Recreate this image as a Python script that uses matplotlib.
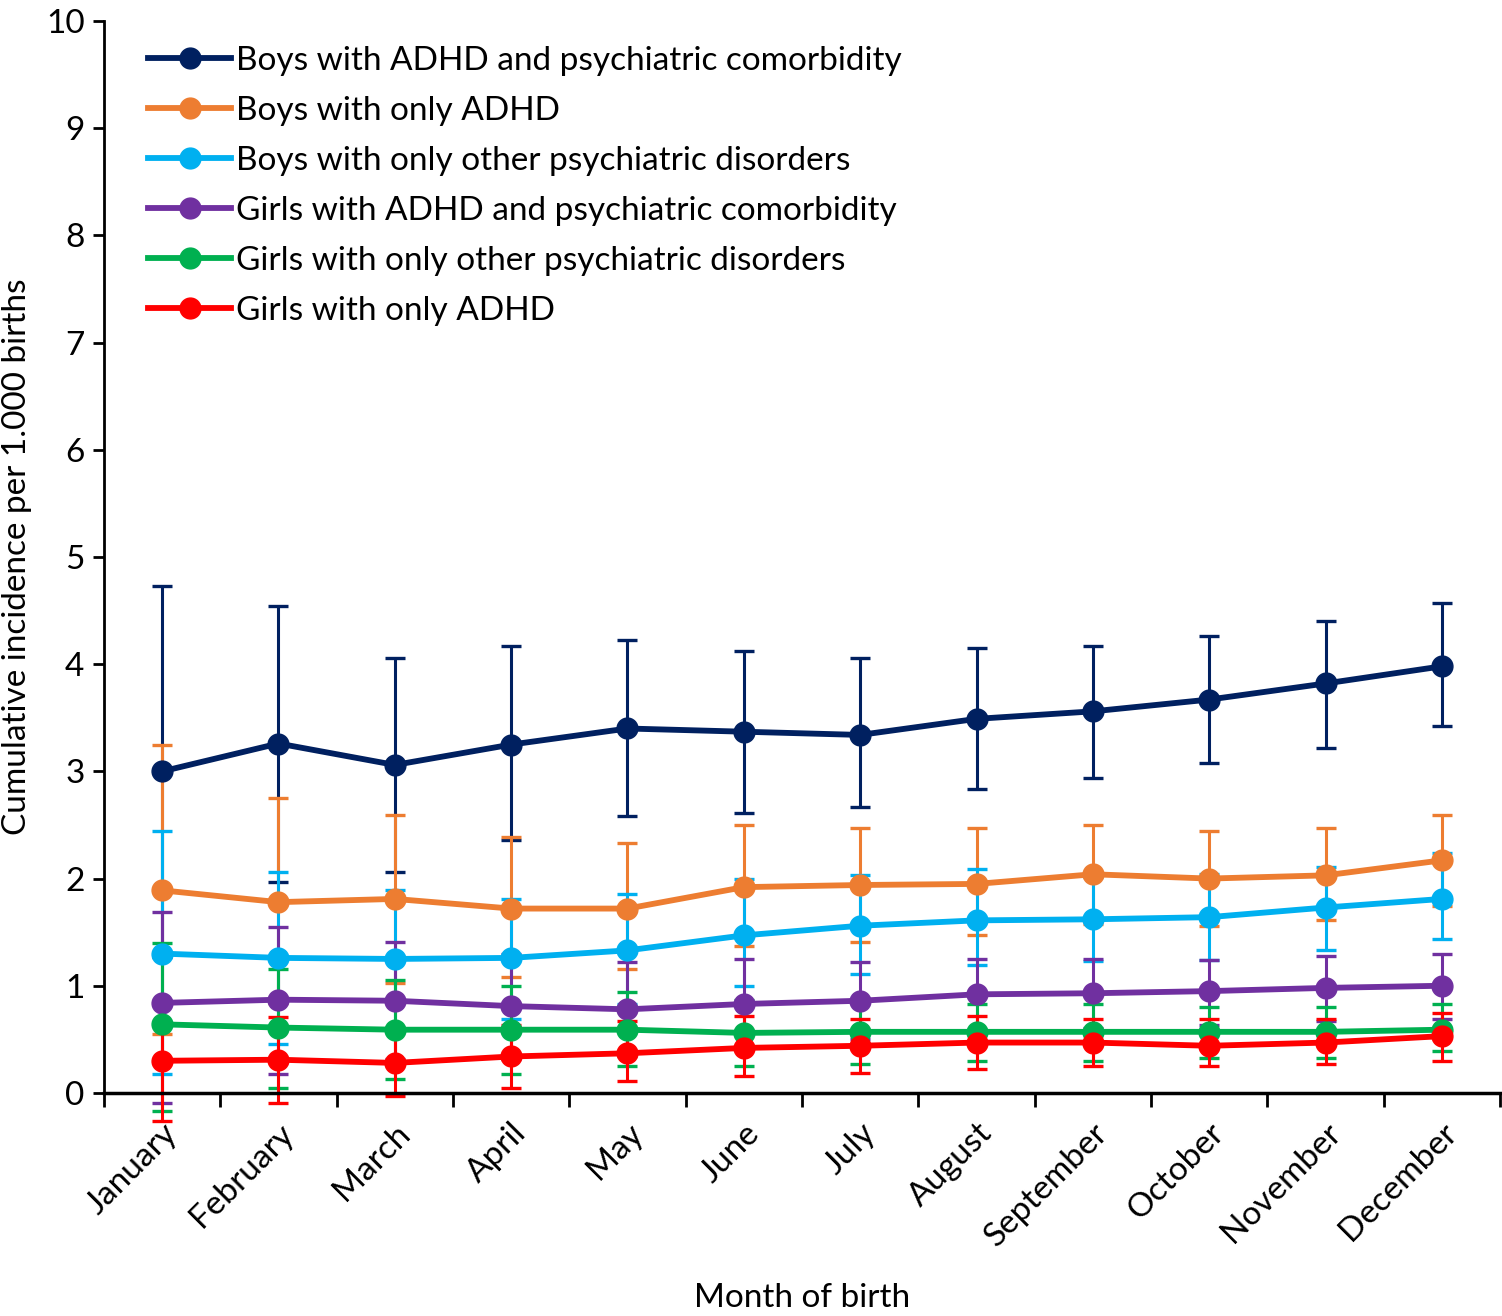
import numpy as np
import matplotlib
matplotlib.use("Agg")
import matplotlib.pyplot as plt

plt.rcParams['font.family'] = ['Lato', 'DejaVu Sans']

# months on the category axis
months = ["January", "February", "March", "April", "May", "June",
          "July", "August", "September", "October", "November", "December"]

# series labels, in legend order
labels = ["Boys with ADHD and psychiatric comorbidity",
          "Boys with only ADHD",
          "Boys with only other psychiatric disorders",
          "Girls with ADHD and psychiatric comorbidity",
          "Girls with only other psychiatric disorders",
          "Girls with only ADHD"]

# boys, ADHD + comorbidity
boys_comorb = [3.00, 3.26, 3.06, 3.25, 3.40, 3.37, 3.34, 3.49, 3.56, 3.67, 3.82, 3.98]
boys_comorb_hi = [4.73, 4.54, 4.06, 4.17, 4.23, 4.12, 4.06, 4.15, 4.17, 4.26, 4.40, 4.57]
boys_comorb_lo = [1.27, 1.97, 2.06, 2.36, 2.58, 2.61, 2.67, 2.84, 2.94, 3.08, 3.22, 3.42]

# boys, only ADHD
boys_adhd = [1.89, 1.78, 1.81, 1.72, 1.72, 1.92, 1.94, 1.95, 2.04, 2.00, 2.03, 2.17]
boys_adhd_hi = [3.25, 2.75, 2.59, 2.39, 2.33, 2.50, 2.47, 2.47, 2.50, 2.44, 2.47, 2.59]
boys_adhd_lo = [0.55, 0.84, 1.03, 1.08, 1.16, 1.37, 1.41, 1.47, 1.58, 1.56, 1.61, 1.74]

# boys, only other psychiatric disorders
boys_other = [1.30, 1.26, 1.25, 1.26, 1.33, 1.47, 1.56, 1.61, 1.62, 1.64, 1.73, 1.81]
boys_other_hi = [2.44, 2.06, 1.89, 1.81, 1.86, 2.00, 2.03, 2.09, 2.01, 2.04, 2.11, 2.24]
boys_other_lo = [0.18, 0.46, 0.61, 0.69, 0.83, 1.00, 1.11, 1.19, 1.23, 1.24, 1.33, 1.44]

# girls, ADHD + comorbidity
girls_comorb = [0.84, 0.87, 0.86, 0.81, 0.78, 0.83, 0.86, 0.92, 0.93, 0.95, 0.98, 1.00]
girls_comorb_hi = [1.69, 1.55, 1.41, 1.30, 1.22, 1.25, 1.22, 1.25, 1.25, 1.24, 1.28, 1.30]
girls_comorb_lo = [-0.09, 0.18, 0.32, 0.32, 0.34, 0.41, 0.50, 0.59, 0.61, 0.63, 0.67, 0.69]

# girls, only other psychiatric disorders
girls_other = [0.64, 0.61, 0.59, 0.59, 0.59, 0.56, 0.57, 0.57, 0.57, 0.57, 0.57, 0.59]
girls_other_hi = [1.40, 1.16, 1.05, 1.00, 0.94, 0.87, 0.87, 0.83, 0.83, 0.80, 0.80, 0.83]
girls_other_lo = [-0.17, 0.05, 0.13, 0.18, 0.25, 0.25, 0.27, 0.30, 0.30, 0.33, 0.33, 0.39]

# girls, only ADHD
girls_adhd = [0.30, 0.31, 0.28, 0.34, 0.37, 0.42, 0.44, 0.47, 0.47, 0.44, 0.47, 0.53]
girls_adhd_hi = [0.86, 0.71, 0.59, 0.63, 0.67, 0.72, 0.69, 0.72, 0.69, 0.69, 0.69, 0.75]
girls_adhd_lo = [-0.26, -0.09, -0.03, 0.05, 0.11, 0.16, 0.19, 0.22, 0.25, 0.25, 0.27, 0.30]

colors = ["#002060", "#ED7D31", "#00B0F0", "#7030A0", "#00B050", "#FF0000"]

series = [(boys_comorb, boys_comorb_lo, boys_comorb_hi),
          (boys_adhd, boys_adhd_lo, boys_adhd_hi),
          (boys_other, boys_other_lo, boys_other_hi),
          (girls_comorb, girls_comorb_lo, girls_comorb_hi),
          (girls_other, girls_other_lo, girls_other_hi),
          (girls_adhd, girls_adhd_lo, girls_adhd_hi)]

fs = 24

fig = plt.figure(figsize=(15.02, 13.16), dpi=100)
ax = fig.add_axes([0.0692, 0.1695, 0.9295, 0.8145])

x = np.arange(len(months))

# error bars first, so markers of every series sit on top of them
for (y, lo, hi), c in zip(series, colors):
    y = np.array(y)
    err = [y - np.array(lo), np.array(hi) - y]
    eb = ax.errorbar(x, y, yerr=err, fmt='none', ecolor=c, elinewidth=2.2,
                     capsize=7.2, capthick=2.4, zorder=2)
    for art in list(eb.lines[1]) + list(eb.lines[2]):
        art.set_clip_on(False)

for i, ((y, lo, hi), c, lab) in enumerate(zip(series, colors, labels)):
    ax.plot(x, y, color=c, lw=4.2, marker='o', markersize=15,
            label=lab, zorder=3 + i, clip_on=False)

ax.set_xlim(-0.5, 11.5)
ax.set_ylim(0, 10)
ax.set_yticks(range(0, 11))
ax.set_xticks(x)
ax.set_xticklabels(months, rotation=45, ha='right', rotation_mode='anchor',
                   fontsize=fs)
ax.set_xticks(np.arange(-0.5, 12, 1), minor=True)
ax.tick_params(axis='x', which='major', length=0, pad=18)
ax.tick_params(axis='x', which='minor', length=10, width=2, direction='out')
ax.tick_params(axis='y', length=8, width=2, direction='out', labelsize=fs, pad=6)

for s in ['top', 'right']:
    ax.spines[s].set_visible(False)
ax.spines['left'].set_linewidth(2)
ax.spines['bottom'].set_linewidth(2.5)

ax.set_xlabel("Month of birth", fontsize=fs, labelpad=22)
ax.set_ylabel("Cumulative incidence per 1.000 births", fontsize=fs, labelpad=10)

ax.legend(loc='upper left', bbox_to_anchor=(0.0985, 0.965), bbox_transform=fig.transFigure,
          frameon=False, fontsize=fs, handlelength=2.5, handletextpad=0.15,
          labelspacing=0.6, borderpad=0, borderaxespad=0)

fig.savefig("out.png", dpi=100)
